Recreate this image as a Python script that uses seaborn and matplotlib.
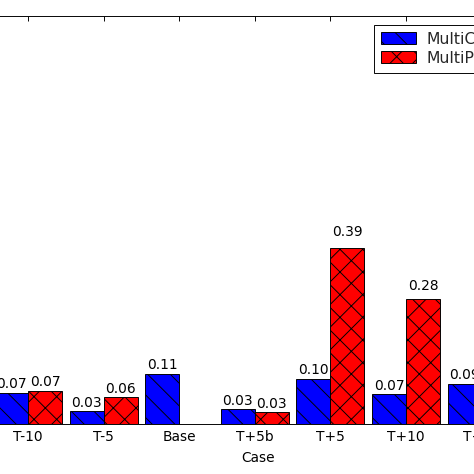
import numpy as np
import pandas as pd
import matplotlib
matplotlib.use("Agg")
import matplotlib.pyplot as plt
import seaborn as sns

cases = ["T-10", "T-5", "Base", "T+5b", "T+5", "T+10", "T+15"]
multi_c = [0.069, 0.029, 0.110, 0.033, 0.099, 0.066, 0.088]
multi_p = [0.073, 0.059, np.nan, 0.027, 0.389, 0.276, 0.200]
series_names = ["MultiCore", "MultiProc"]

df = pd.DataFrame({
    "Case": cases * 2,
    "value": multi_c + multi_p,
    "series": [series_names[0]] * len(cases) + [series_names[1]] * len(cases),
})

sns.set_theme(style="white")
plt.rcParams["font.family"] = ["DejaVu Sans"]
plt.rcParams["hatch.linewidth"] = 1.0
plt.rcParams["hatch.color"] = "black"

DPI = 68
FS = 14.5
fig = plt.figure(figsize=(474 / DPI, 474 / DPI), dpi=DPI)
ax = fig.add_axes([-6 / 474, 50 / 474, 521.6 / 474, 408 / 474])

sns.barplot(data=df, x="Case", y="value", hue="series", order=cases,
            hue_order=series_names, palette=["#0000ff", "#ff0000"],
            width=0.9, errorbar=None, edgecolor="black", linewidth=1.0,
            saturation=1.0, ax=ax, legend=False)

hatches = ["\\", "x"]
for cont, h in zip(ax.containers, hatches):
    for bar in cont:
        bar.set_hatch(h)
        bar.set_edgecolor("black")
        hgt = bar.get_height()
        if np.isfinite(hgt) and hgt > 0:
            ax.text(bar.get_x() + bar.get_width() / 2, hgt * 1.05, "%.2f" % hgt,
                    ha="center", va="bottom", fontsize=FS, color="black")

ax.set_xlim(-0.45, 6.45)
ax.set_ylim(0, 0.9)
ax.set_xlabel("Case", fontsize=FS, color="black", va="top")
ax.xaxis.set_label_coords(264 / 521.6, -26.5 / 408)
ax.set_ylabel("")
ax.tick_params(axis="x", direction="in", top=True, bottom=True, length=5,
               width=1, pad=6, labelsize=FS, colors="black")
ax.tick_params(axis="y", direction="in", left=True, right=True, length=5, labelsize=FS)
for s in ax.spines.values():
    s.set_visible(True)
    s.set_color("black")
    s.set_linewidth(1.0)

leg = ax.legend(handles=list(ax.containers), labels=series_names,
                loc="upper left", bbox_to_anchor=(374 / 474, 1 - 24.7 / 474),
                bbox_transform=fig.transFigure, borderaxespad=0,
                fontsize=16.5, handlelength=2.25, handleheight=0.81,
                handletextpad=0.7, labelspacing=0.26, borderpad=0.45,
                fancybox=False, frameon=True, framealpha=1, shadow=False)
leg.get_frame().set_edgecolor("black")
leg.get_frame().set_linewidth(1.0)

fig.savefig("out.png", dpi=DPI)
